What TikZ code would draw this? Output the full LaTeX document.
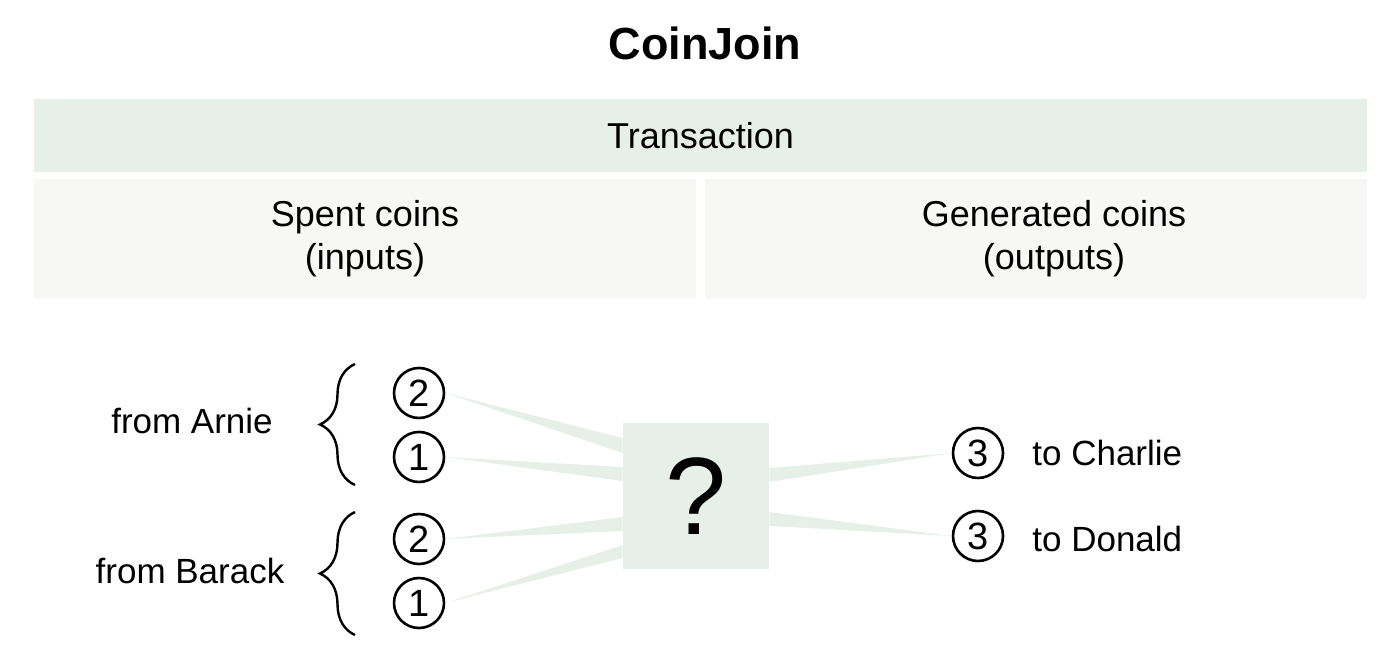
\documentclass[tikz,border=0pt]{standalone}
\usepackage{fontspec}
\setmainfont{Liberation Sans}
\usetikzlibrary{calc,decorations.pathreplacing}
\definecolor{txgreen}{HTML}{E6F0E8}
\definecolor{panelgrey}{HTML}{F7F7F6}
\begin{document}
\begin{tikzpicture}[x=0.5pt,y=-0.5pt,
    label/.style={font=\fontsize{17.5}{20}\selectfont},
    panel/.style={fill=panelgrey,minimum width=331pt,minimum height=59.5pt},
    head/.style={align=center,font=\fontsize{18}{21.5}\selectfont},
    coin/.style={circle,draw,fill=white,line width=1.3pt,minimum size=25pt,inner sep=0pt,font=\fontsize{19}{22}\selectfont},
    wedge/.style={fill=txgreen},
    curly/.style={decorate,decoration={brace,amplitude=17.5pt},line width=1.2pt}]
  \useasboundingbox (0,0) rectangle (1400,651);
  \node (t) at (705,43) {\fontsize{22.5}{27}\selectfont\bfseries CoinJoin};
  \node[fill=txgreen,minimum width=666.5pt,minimum height=36.5pt,font=\fontsize{18}{21.5}\selectfont] (tx) at (700.5,135.5) {Transaction};
  \node[panel] (in) at (365,238.5) {};
  \node[panel] (out) at (1036,238.5) {};
  \node[head] (intext) at (in) {Spent coins\\(inputs)};
  \node[head] (outtext) at ($(out)+(18,0)$) {Generated coins\\(outputs)};
  \node[fill=txgreen,minimum size=73pt,inner sep=0pt,font=\fontsize{55}{60}\selectfont] (q) at (696,496) {?};
  \node[coin] (a2) at (419,393) {2};
  \node[coin] (a1) at (419,457) {1};
  \node[coin] (b2) at (419,539) {2};
  \node[coin] (b1) at (419,603) {1};
  \node[coin] (c3) at (978,453) {3};
  \node[coin] (d3) at (978,536) {3};
  \node[label] (arnie) at (192,421) {from Arnie};
  \node[label] (barack) at (190,571) {from Barack};
  \node[label,anchor=west,inner sep=0pt] (charlie) at (1032,453) {to Charlie};
  \node[label,anchor=west,inner sep=0pt] (donald) at (1032,539) {to Donald};
  \draw[curly] (355,485) -- (355,364);
  \draw[curly] (355,635) -- (355,512);
  \fill[wedge] (a2.east) -- ($(q.west)+(0,-58)$) -- ($(q.west)+(0,-43)$) -- cycle;
  \fill[wedge] (a1.east) -- ($(q.west)+(0,-29)$) -- ($(q.west)+(0,-15)$) -- cycle;
  \fill[wedge] (b2.east) -- ($(q.west)+(0,21)$) -- ($(q.west)+(0,35)$) -- cycle;
  \fill[wedge] (b1.east) -- ($(q.west)+(0,49)$) -- ($(q.west)+(0,62)$) -- cycle;
  \fill[wedge] (c3.west) -- ($(q.east)+(0,-28)$) -- ($(q.east)+(0,-14)$) -- cycle;
  \fill[wedge] (d3.west) -- ($(q.east)+(0,16)$) -- ($(q.east)+(0,30)$) -- cycle;
\end{tikzpicture}
\end{document}
